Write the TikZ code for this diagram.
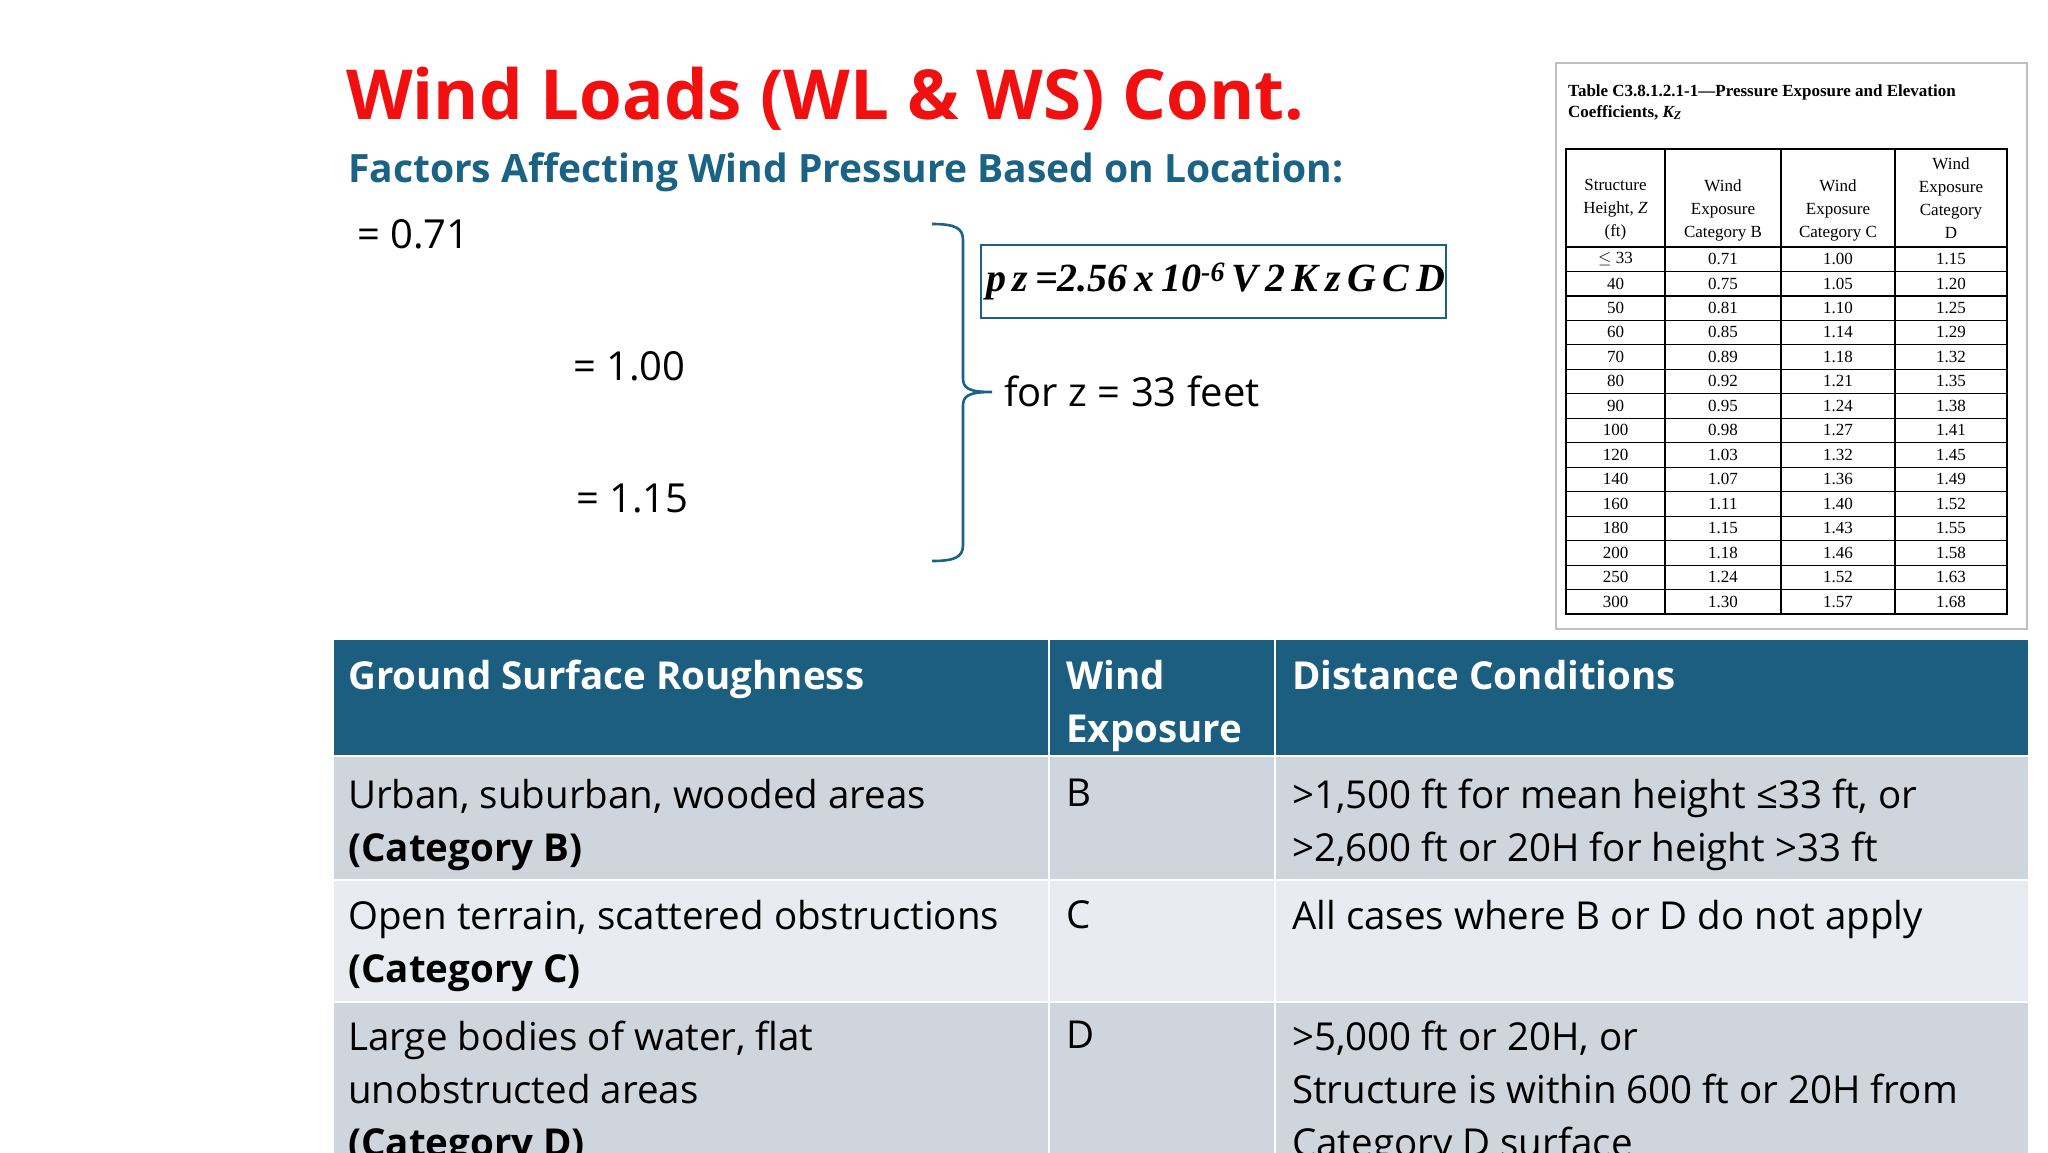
\documentclass[tikz,border=0pt]{standalone}
\usepackage{fontspec}
\setmainfont{Open Sans}
\newfontfamily\serifk{Liberation Serif}
\definecolor{titlered}{HTML}{F20F0F}
\definecolor{teal}{HTML}{1B6384}
\definecolor{hdr}{HTML}{1B5E80}
\definecolor{rowa}{HTML}{CFD5DD}
\definecolor{rowb}{HTML}{E8EBEF}
\begin{document}
\begin{tikzpicture}[x=1pt,y=-1pt,
  big/.style={inner sep=0pt,font=\fontsize{40}{50}\selectfont},
  cell/.style={inner sep=0pt,anchor=north west,align=left,font=\fontsize{38.5}{52.8}\selectfont},
  hcell/.style={cell,text=white,font=\fontsize{38.5}{52.8}\selectfont\bfseries},
  kt/.style={inner sep=0pt,font=\serifk\fontsize{17}{23}\selectfont,align=center}]
\useasboundingbox (0,0) rectangle (2048,1152);
\fill[white] (0,0) rectangle (2048,1152);
% titles
\node[inner sep=0pt,anchor=base west,text=titlered,font=\fontsize{69}{80}\selectfont\bfseries] (title) at (346,119) {Wind Loads (WL \& WS) Cont.};
\node[inner sep=0pt,anchor=base west,text=teal,font=\fontsize{39}{46}\selectfont\bfseries] (sub) at (348,182) {Factors Affecting Wind Pressure Based on Location:};
% values
\node[big,anchor=base west] (v1) at (357,248) {= 0.71};
\node[big,anchor=base west] (v2) at (573,380) {= 1.00};
\node[big,anchor=base west] (v3) at (576,512) {= 1.15};
% brace
\coordinate (bt) at (932,224);
\coordinate (bb) at (932,561);
\coordinate (bm) at (992,392);
\draw[teal,line width=2.6pt] (bt) .. controls (955,224) and (963,228) .. (963,240) -- (963,378) .. controls (963,388) and (968,392) .. (bm)
  (bm) .. controls (968,392) and (963,396) .. (963,406) -- (963,545) .. controls (963,557) and (955,561) .. (bb);
% formula
\node[draw=teal,line width=1.5pt,minimum width=465,minimum height=73,anchor=north west,inner sep=0pt] (fbox) at (980,244) {};
\node[inner sep=0pt,anchor=base west,font=\serifk\fontsize{40}{46}\selectfont\bfseries\itshape] (form) at (986,291) {p\,z\,=2.56\,x\,10\textsuperscript{-6}\,V\,2\,K\,z\,G\,C\,D};
\node[big,anchor=base west] (forz) at (1004,406) {for z = 33 feet};
% Kz table image
\draw[gray!50,line width=1.5pt] (1556,63) rectangle (2027,629);
\node[inner sep=0pt,anchor=north west,align=left,font=\serifk\bfseries\fontsize{17}{21}\selectfont] (kttitle) at (1568,84) {Table C3.8.1.2.1-1—Pressure Exposure and Elevation\\Coefficients, \textit{K\textsubscript{Z}}};
\def\xa{1566}\def\xb{1665}\def\xc{1781}\def\xd{1895}\def\xe{2007}
\draw[line width=2.5pt] (\xa,149) rectangle (\xe,614);
\draw[line width=1.4pt] (\xb,149) -- (\xb,614) (\xc,149) -- (\xc,614) (\xd,149) -- (\xd,614);
\draw[line width=2pt] (\xa,247) -- (\xe,247);
\foreach \i in {1,...,14}{\draw[line width=1.2pt] (\xa,247+\i*24.47) -- (\xe,247+\i*24.47);}
\node[kt] (h1) at (1615.5,210) {Structure\\Height, \textit{Z}\\(ft)};
\node[kt] (h2) at (1723,210) {Wind\\Exposure\\Category B};
\node[kt] (h3) at (1838,210) {Wind\\Exposure\\Category C};
\node[kt] (h4) at (1951,198) {Wind\\Exposure\\Category\\D};
\foreach \z/\b/\c/\d [count=\i from 0] in {$\le$ 33/0.71/1.00/1.15,40/0.75/1.05/1.20,50/0.81/1.10/1.25,60/0.85/1.14/1.29,70/0.89/1.18/1.32,80/0.92/1.21/1.35,90/0.95/1.24/1.38,100/0.98/1.27/1.41,120/1.03/1.32/1.45,140/1.07/1.36/1.49,160/1.11/1.40/1.52,180/1.15/1.43/1.55,200/1.18/1.46/1.58,250/1.24/1.52/1.63,300/1.30/1.57/1.68}{
  \node[kt] (kz\i) at (1615.5,259+\i*24.47) {\z};
  \node[kt] (kb\i) at (1723,259+\i*24.47) {\b};
  \node[kt] (kc\i) at (1838,259+\i*24.47) {\c};
  \node[kt] (kd\i) at (1951,259+\i*24.47) {\d};
}
% main table
\fill[hdr] (334,640) rectangle (2028,756);
\fill[rowa] (334,756) rectangle (2028,880);
\fill[rowb] (334,880) rectangle (2028,1002);
\fill[rowa] (334,1002) rectangle (2028,1160);
\draw[white,line width=2pt] (1049,640) -- (1049,1160) (1275,640) -- (1275,1160)
  (334,756) -- (2028,756) (334,880) -- (2028,880) (334,1002) -- (2028,1002);
\node[hcell] (c11) at (348,660) {Ground Surface Roughness};
\node[hcell] (c12) at (1066,660) {Wind\\Exposure};
\node[hcell] (c13) at (1292,660) {Distance Conditions};
\node[cell] (c21) at (348,779) {Urban, suburban, wooded areas\\\textbf{(Category B)}};
\node[cell] (c22) at (1066,779) {B};
\node[cell] (c23) at (1292,779) {>1,500 ft for mean height ≤33 ft, or\\>2,600 ft or 20H for height >33 ft};
\node[cell] (c31) at (348,900) {Open terrain, scattered obstructions\\\textbf{(Category C)}};
\node[cell] (c32) at (1066,900) {C};
\node[cell] (c33) at (1292,900) {All cases where B or D do not apply};
\node[cell] (c41) at (348,1021) {Large bodies of water, flat\\unobstructed areas\\\textbf{(Category D)}};
\node[cell] (c42) at (1066,1021) {D};
\node[cell] (c43) at (1292,1021) {>5,000 ft or 20H, or\\Structure is within 600 ft or 20H from\\Category D surface};
\end{tikzpicture}
\end{document}
